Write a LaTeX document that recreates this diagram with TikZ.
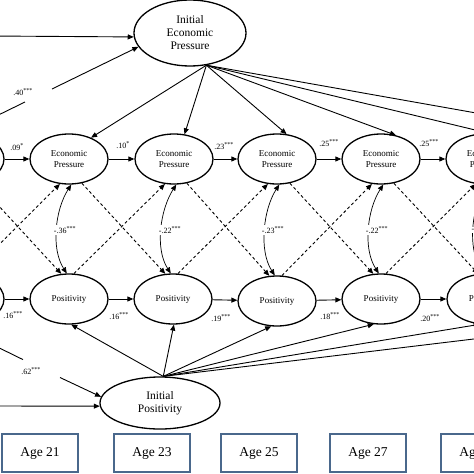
\documentclass[tikz,border=0pt]{standalone}
\usepackage{fontspec}
\setmainfont{Liberation Serif}
\usetikzlibrary{shapes.geometric,arrows.meta}
\definecolor{agecol}{RGB}{74,104,140}
\begin{document}
\begin{tikzpicture}[x=1pt,y=-1pt,
  lat/.style={ellipse,draw,line width=1.3pt,minimum width=78pt,minimum height=50pt,inner sep=0pt,align=center,font=\fontsize{9}{11}\selectfont},
  init/.style={lat,font=\fontsize{11.5}{13}\selectfont},
  agebox/.style={draw=agecol,line width=2pt,minimum width=76pt,minimum height=38pt,font=\fontsize{13.5}{15}\selectfont},
  arr/.style={-{Triangle[length=6pt,width=5pt]},line width=0.9pt},
  dsh/.style={arr,dash pattern=on 3pt off 2.5pt},
  corr/.style={{Triangle[length=6pt,width=5pt]}-{Triangle[length=6pt,width=5pt]},line width=0.7pt},
  lab/.style={font=\fontsize{8}{9}\selectfont,inner sep=1pt},
  clab/.style={lab,fill=white,inner sep=1.5pt},
]
\useasboundingbox (0,0) rectangle (474,474);
\clip (0,0) rectangle (474,474);

% initial factors
\node[init,minimum width=112pt,minimum height=66pt] (IEP) at (190,33) {Initial\\Economic\\Pressure};
\node[init,minimum width=120pt,minimum height=52pt] (IP) at (160,403) {Initial\\Positivity};

% economic pressure row
\node[lat] (E0) at (-35,159) {Economic\\Pressure};
\node[lat] (E1) at (69,159) {Economic\\Pressure};
\node[lat] (E2) at (174,159) {Economic\\Pressure};
\node[lat] (E3) at (277,159) {Economic\\Pressure};
\node[lat] (E4) at (381,159) {Economic\\Pressure};
\node[lat] (E5) at (485,159) {Economic\\Pressure};

% positivity row
\node[lat] (P0) at (-35,299) {Positivity};
\node[lat] (P1) at (69,299) {Positivity};
\node[lat] (P2) at (173,299) {Positivity};
\node[lat] (P3) at (277,301) {Positivity};
\node[lat] (P4) at (381,299) {Positivity};
\node[lat] (P5) at (486,299) {Positivity};

% age boxes
\node[agebox] (A21) at (40,453) {Age 21};
\node[agebox] (A23) at (152,453) {Age 23};
\node[agebox] (A25) at (259,453) {Age 25};
\node[agebox] (A27) at (368,453) {Age 27};
\node[agebox] (A29) at (479,453) {Age 29};

% free ends
\coordinate (Lt) at (-10,36);
\coordinate (L40) at (-20,124);
\coordinate (g1) at (25,102);
\coordinate (g2) at (52,89);
\coordinate (L62) at (-20,338.5);
\coordinate (h1) at (23,359.6);
\coordinate (h2) at (60,377.5);
\coordinate (Lb) at (-10,406);
\coordinate (E6t) at (589,133);
\coordinate (P6b) at (590,325);

% arrows into initial factors
\draw[arr] (Lt) -- (IEP.184);
\draw[line width=0.9pt] (L40) -- (g1);
\draw[arr] (g2) -- (IEP.195);
\node[lab] (l40) at (23,92) {.40\textsuperscript{***}};
\draw[line width=0.9pt] (L62) -- (h1);
\draw[arr] (h2) -- (IP.174);
\node[lab] (l62) at (31,371) {.62\textsuperscript{***}};
\draw[arr] (Lb) -- (IP.183);

% fan from initial economic pressure
\coordinate (IEPo) at (IEP.-63);
\draw[arr] (IEPo) -- (E1.44);
\draw[arr] (IEPo) -- (E2.67);
\draw[arr] (IEPo) -- (E3.69);
\draw[arr] (IEPo) -- (E4.58);
\draw[arr] (IEPo) -- (E5.79);
\draw[arr] (IEPo) -- (E6t);

% fan from initial positivity
\coordinate (IPo) at (IP.83);
\draw[arr] (IPo) -- (P1.-85);
\draw[arr] (IPo) -- (P2.-88);
\draw[arr] (IPo) -- (P3.-103);
\draw[arr] (IPo) -- (P4.-106);
\draw[arr] (IPo) -- (P5.-104);
\draw[arr] (IPo) -- (P6b);

% stability paths
\draw[arr] (E0) -- (E1);
\draw[arr] (E1) -- (E2);
\draw[arr] (E2) -- (E3);
\draw[arr] (E3) -- (E4);
\draw[arr] (E4) -- (E5);
\node[lab] (le1) at (17,147) {.09\textsuperscript{*}};
\node[lab] (le2) at (123,145) {.10\textsuperscript{*}};
\node[lab] (le3) at (224,146) {.23\textsuperscript{***}};
\node[lab] (le4) at (329,143) {.25\textsuperscript{***}};
\node[lab] (le5) at (429,143) {.25\textsuperscript{***}};

\draw[arr] (P0) -- (P1);
\draw[arr] (P1) -- (P2);
\draw[arr] (P2) -- (P3);
\draw[arr] (P3) -- (P4);
\draw[arr] (P4) -- (P5);
\node[lab] (lp1) at (13,315) {.16\textsuperscript{***}};
\node[lab] (lp2) at (119,316) {.16\textsuperscript{***}};
\node[lab] (lp3) at (221,318) {.19\textsuperscript{***}};
\node[lab] (lp4) at (330,316) {.18\textsuperscript{***}};
\node[lab] (lp5) at (430,318) {.20\textsuperscript{***}};

% cross-lagged paths
\draw[dsh] (E0.-62) -- (P1.107);
\draw[dsh] (P0.79) -- (E1.-110);
\draw[dsh] (E1.-62) -- (P2.107);
\draw[dsh] (P1.79) -- (E2.-110);
\draw[dsh] (E2.-62) -- (P3.107);
\draw[dsh] (P2.79) -- (E3.-110);
\draw[dsh] (E3.-62) -- (P4.107);
\draw[dsh] (P3.79) -- (E4.-110);
\draw[dsh] (E4.-62) -- (P5.107);
\draw[dsh] (P4.79) -- (E5.-110);

% within-time correlations
\draw[corr] (E1.-85) .. controls +(-16,25) and +(-16,-25) .. (P1.95);
\draw[corr] (E2.-85) .. controls +(-16,25) and +(-16,-25) .. (P2.95);
\draw[corr] (E3.-85) .. controls +(-16,25) and +(-16,-25) .. (P3.95);
\draw[corr] (E4.-85) .. controls +(-16,25) and +(-16,-25) .. (P4.95);
\draw[corr] (E5.-85) .. controls +(-16,25) and +(-16,-25) .. (P5.95);
\node[clab] (c1) at (65,230) {-.36\textsuperscript{***}};
\node[clab] (c2) at (170,230) {-.22\textsuperscript{***}};
\node[clab] (c3) at (273,230) {-.23\textsuperscript{***}};
\node[clab] (c4) at (377,230) {-.22\textsuperscript{***}};
\node[clab,anchor=west] (c5) at (470,230) {-};
\end{tikzpicture}
\end{document}
